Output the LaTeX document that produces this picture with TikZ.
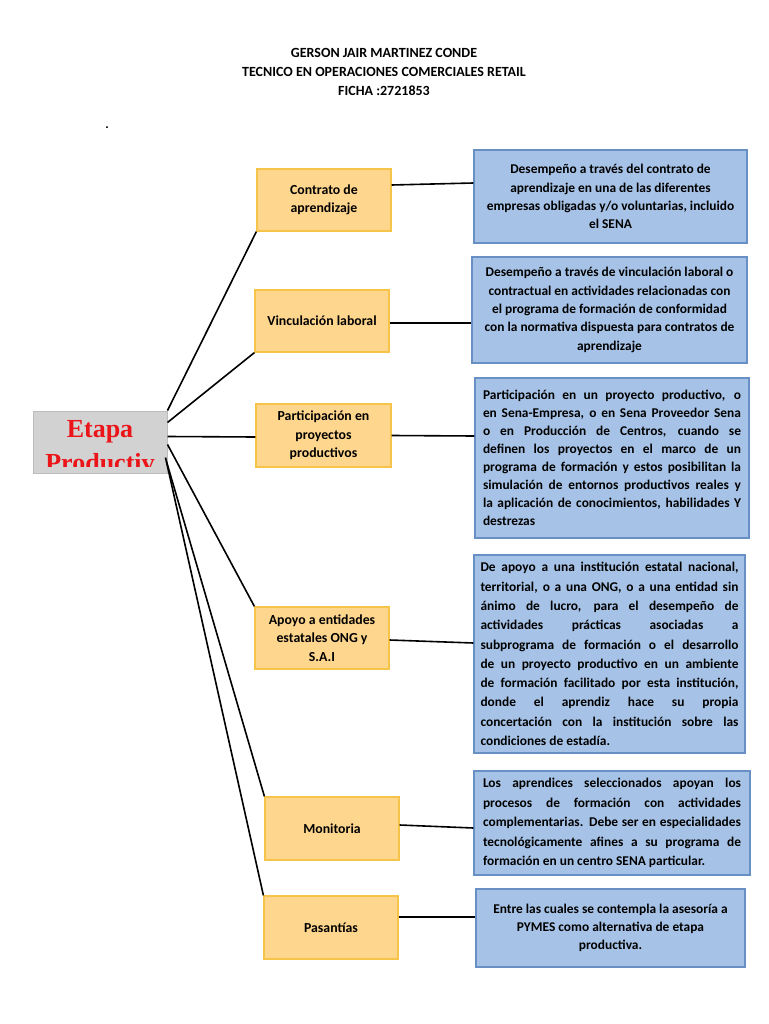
\documentclass[tikz,border=0pt]{standalone}
\usepackage{fontspec}
\setmainfont{Carlito}
\newfontfamily\timesfont{Liberation Serif}
\definecolor{orfill}{RGB}{255,214,142}
\definecolor{ordraw}{RGB}{246,196,72}
\definecolor{blfill}{RGB}{166,195,231}
\definecolor{bldraw}{RGB}{104,144,197}
\definecolor{grfill}{RGB}{210,210,210}
\definecolor{grdraw}{RGB}{188,188,188}
\definecolor{etred}{RGB}{235,20,25}
\newlength\jw
\setlength\jw{258pt}
\newcommand{\ns}{\spaceskip=\fontdimen2\font\xspaceskip=\fontdimen2\font\relax}
\newcommand{\jl}[1]{\makebox[\jw][s]{\spaceskip=0pt\xspaceskip=0pt\relax #1}}
\begin{document}
\begin{tikzpicture}[x=1pt,y=-1pt,
  obox/.style={draw=ordraw, fill=orfill, line width=1.2pt, minimum width=134pt, minimum height=62pt, inner sep=0pt, text width=126pt, align=center, font=\fontsize{13.8}{18.5}\selectfont\bfseries},
  bbox/.style={draw=bldraw, fill=blfill, line width=1.2pt, inner sep=0pt, text width=258pt},
  bfont/.style={font=\fontsize{13.4}{#1}\selectfont\bfseries},
  link/.style={line width=1.6pt, draw=black}]
\useasboundingbox (0,0) rectangle (768,1024);

% header
\node[font=\fontsize{14}{19}\selectfont\bfseries, align=center] (hdr) at (384,72)
  {\ns GERSON JAIR MARTINEZ CONDE\\TECNICO EN OPERACIONES COMERCIALES RETAIL\\FICHA :2721853};
\node[font=\fontsize{13}{15}\selectfont\bfseries, anchor=base, inner sep=0pt] (dot) at (107,129) {.};

% central box
\node[draw=grdraw, fill=grfill, line width=1pt, minimum width=134pt, minimum height=62pt, inner sep=0pt] (etapa) at (100,442) {};
\begin{scope}
  \clip (34,412) rectangle (166,466);
  \node[font=\fontsize{26}{30}\selectfont\timesfont\bfseries, text=etred, anchor=base, inner sep=0pt] (et1) at (100,437) {Etapa};
  \node[font=\fontsize{26}{30}\selectfont\timesfont\bfseries, text=etred, anchor=base, inner sep=0pt] (et2) at (100,471) {Productiv};
\end{scope}

% orange boxes
\node[obox] (c1) at (324,200) {\ns Contrato de\\aprendizaje};
\node[obox] (c2) at (322,321) {\ns Vinculación laboral};
\node[obox, minimum width=135pt, minimum height=63pt] (c3) at (323.5,435.5) {\ns Participación en\\proyectos\\productivos};
\node[obox] (c4) at (322,638) {\ns Apoyo a entidades\\estatales ONG y\\S.A.I};
\node[obox, minimum height=63pt] (c5) at (332,828.5) {Monitoria};
\node[obox, minimum height=63pt] (c6) at (331,927.5) {Pasantías};

% blue boxes
\node[bbox, bfont=18.3, align=center, minimum width=273pt, minimum height=93pt] (d1) at (610.5,196.5)
  {\ns Desempeño a través del contrato de\\aprendizaje en una de las diferentes\\empresas obligadas y/o voluntarias, incluido\\el SENA};
\node[bbox, bfont=18.3, align=center, minimum width=275pt, minimum height=106pt] (d2) at (609.5,310)
  {\ns Desempeño a través de vinculación laboral o\\contractual en actividades relacionadas con\\el programa de formación de conformidad\\con la normativa dispuesta para contratos de\\aprendizaje};
\node[bbox, bfont=18, align=left, minimum width=274pt, minimum height=160pt] (d3) at (612,458)
  {\jl{Participación en un proyecto productivo, o}\\
   \jl{en Sena-Empresa, o en Sena Proveedor Sena}\\
   \jl{o en Producción de Centros, cuando se}\\
   \jl{definen los proyectos en el marco de un}\\
   \jl{programa de formación y estos posibilitan la}\\
   \jl{simulación de entornos productivos reales y}\\
   \jl{la aplicación de conocimientos, habilidades Y}\\
   \ns destrezas};
\node[bbox, bfont=19.3, align=left, minimum width=271pt, minimum height=198pt] (d4) at (609.5,654)
  {\jl{De apoyo a una institución estatal nacional,}\\
   \jl{territorial, o a una ONG, o a una entidad sin}\\
   \jl{ánimo de lucro, para el desempeño de}\\
   \jl{actividades prácticas asociadas a}\\
   \jl{subprograma de formación o el desarrollo}\\
   \jl{de un proyecto productivo en un ambiente}\\
   \jl{de formación facilitado por esta institución,}\\
   \jl{donde el aprendiz hace su propia}\\
   \jl{concertación con la institución sobre las}\\
   \ns condiciones de estadía.};
\node[bbox, bfont=19.5, align=left, minimum width=276pt, minimum height=104pt] (d5) at (612,823)
  {\jl{Los aprendices seleccionados apoyan los}\\
   \jl{procesos de formación con actividades}\\
   \jl{complementarias. Debe ser en especialidades}\\
   \jl{tecnológicamente afines a su programa de}\\
   \ns formación en un centro SENA particular.};
\node[bbox, bfont=18.3, align=center, minimum width=269pt, minimum height=78pt] (d6) at (610.5,928)
  {\ns Entre las cuales se contempla la asesoría a\\PYMES como alternativa de etapa\\productiva.};

% connectors from central box
\draw[link] (etapa.north east) -- (c1.south west);
\draw[link] ([yshift=-12pt]etapa.north east) -- (c2.south west);
\draw[link] ([yshift=-26pt]etapa.north east) -- ([yshift=-1.5pt]c3.west);
\draw[link] ([yshift=-34pt]etapa.north east) -- (c4.north west);
\draw[link] ([yshift=-51pt,xshift=-1pt]etapa.north east) -- (c5.north west);
\draw[link] ([yshift=-47pt,xshift=-2pt]etapa.north east) -- (c6.north west);

% connectors orange -> blue
\draw[link] ([yshift=15pt]c1.east) -- ([yshift=13.5pt]d1.west);
\draw[link] ([yshift=-2pt]c2.east) -- ([yshift=-13pt]d2.west);
\draw[link] (c3.east) -- ([yshift=22pt]d3.west);
\draw[link] ([yshift=-2pt]c4.east) -- ([yshift=11pt]d4.west);
\draw[link] ([yshift=3.5pt]c5.east) -- ([yshift=-5pt]d5.west);
\draw[link] ([yshift=10.5pt]c6.east) -- ([yshift=11pt]d6.west);
\end{tikzpicture}
\end{document}
